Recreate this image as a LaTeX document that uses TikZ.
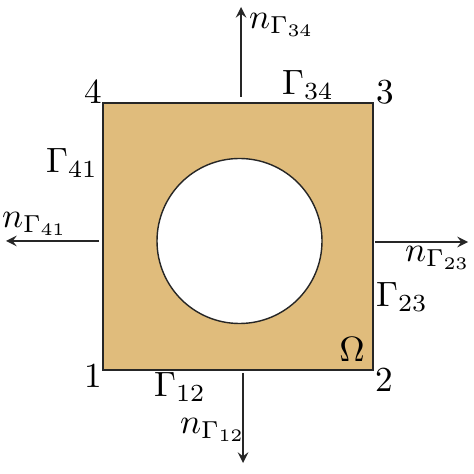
\documentclass[tikz,border=0pt]{standalone}
\usepackage{amsmath}
\usepackage{tikz}
\usepackage{color}
\definecolor{sand}{RGB}{224,188,124}
\tikzstyle{lab} = [inner sep=0pt]
\tikzstyle{nvec} = [->, >=stealth, draw=black!85, line width=0.35pt]

\begin{document}
\begin{tikzpicture}
  \useasboundingbox (-1.03,-1.04) rectangle (3.71,3.70);
  % domain with hole
  \fill [sand, even odd rule] (0,0) rectangle (2.70,2.67)
    (1.365,1.29) circle (0.825);
  \draw [black!85, line width=0.6pt] (0,0) rectangle (2.70,2.67);
  \draw [black!85] (1.365,1.29) circle (0.825);
  % corners and edges
  \node [lab] (c1) at (-0.10,-0.06) {1};
  \node [lab] (c2) at (2.81,-0.10) {2};
  \node [lab] (c3) at (2.82,2.78) {3};
  \node [lab] (c4) at (-0.10,2.78) {4};
  \node [lab] (g12) at (0.77,-0.17) {$\Gamma_{12}$};
  \node [lab] (g23) at (2.99,0.73) {$\Gamma_{23}$};
  \node [lab] (g34) at (2.05,2.85) {$\Gamma_{34}$};
  \node [lab] (g41) at (-0.31,2.07) {$\Gamma_{41}$};
  \node [lab] (om) at (2.49,0.21) {$\Omega$};
  % outward normals
  \coordinate (s12) at (1.40,-0.03);
  \coordinate (e12) at (1.40,-0.93);
  \coordinate (s23) at (2.72,1.28);
  \coordinate (e23) at (3.65,1.28);
  \coordinate (s34) at (1.38,2.73);
  \coordinate (e34) at (1.38,3.63);
  \coordinate (s41) at (-0.04,1.29);
  \coordinate (e41) at (-0.97,1.29);
  \draw [nvec] (s12) -- (e12);
  \draw [nvec] (s23) -- (e23);
  \draw [nvec] (s34) -- (e34);
  \draw [nvec] (s41) -- (e41);
  \node [lab] (n12) at (1.10,-0.60) {$n_{\Gamma_{12}}$};
  \node [lab] (n23) at (3.35,1.12) {$n_{\Gamma_{23}}$};
  \node [lab] (n34) at (1.79,3.45) {$n_{\Gamma_{34}}$};
  \node [lab] (n41) at (-0.68,1.46) {$n_{\Gamma_{41}}$};
\end{tikzpicture}
\end{document}
